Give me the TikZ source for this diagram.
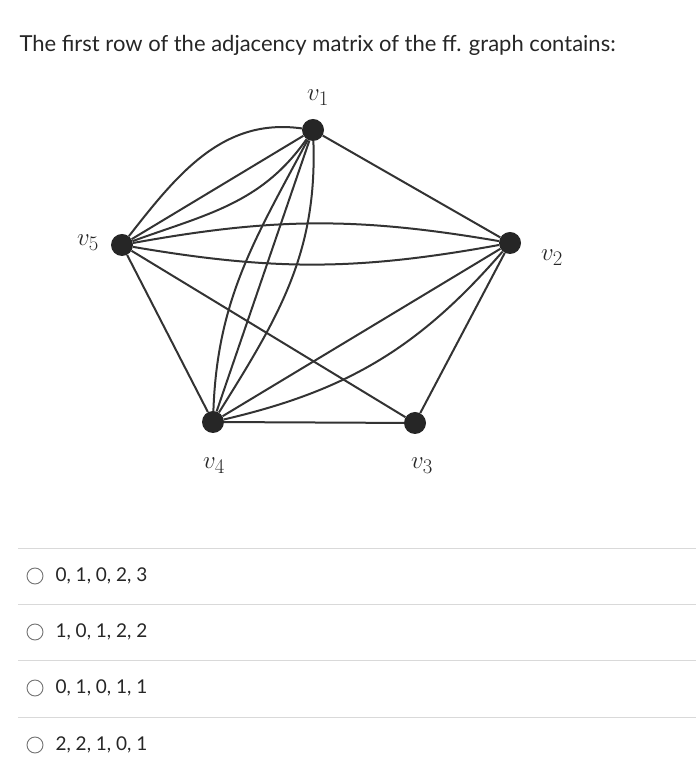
\documentclass[tikz,border=0pt]{standalone}
\usepackage{fontspec}
\setmainfont{Lato}
\newcommand{\vlab}[1]{$v_{#1}$}
\begin{document}
\begin{tikzpicture}[x=1pt,y=1pt,
  vtx/.style={circle,fill=black!85,minimum size=22pt,inner sep=0pt},
  edge/.style={line width=2pt,black!80},
  vl/.style={font=\fontsize{28}{28}\selectfont,text=black!85},
  opt/.style={anchor=west,font=\fontsize{19}{19}\selectfont,text=black!85},
  radio/.style={circle,draw=black!55,line width=0.9pt,minimum size=16pt,inner sep=0pt},
  sep/.style={draw=black!15,line width=0.8pt}]
\useasboundingbox (0,0) rectangle (696,776);
\node[anchor=west,font=\fontsize{22}{22}\selectfont,text=black!85] (title) at (16,731) {The first row of the adjacency matrix of the ff. graph contains:};
\node[vtx] (v1) at (313,646) {};
\node[vtx] (v2) at (510,533) {};
\node[vtx] (v3) at (415,353) {};
\node[vtx] (v4) at (213,354) {};
\node[vtx] (v5) at (122,531) {};
\node[vl] (l1) at (318,678) {\vlab{1}};
\node[vl] (l2) at (552,518) {\vlab{2}};
\node[vl] (l3) at (422,310) {\vlab{3}};
\node[vl] (l4) at (214,310) {\vlab{4}};
\node[vl] (l5) at (88,533) {\vlab{5}};
\begin{scope}[edge]
\draw (v5) to[out=52,in=172] (v1);
\draw (v5) -- (v1);
\draw (v5) to[out=20,in=235] (v1);
\draw (v1) -- (v4);
\draw (v1) to[out=242,in=88] (v4);
\draw (v1) to[out=272,in=58] (v4);
\draw (v1) -- (v2);
\draw (v5) to[bend left=10] (v2);
\draw (v5) to[bend right=10] (v2);
\draw (v5) -- (v3);
\draw (v5) -- (v4);
\draw (v4) -- (v2);
\draw (v4) to[bend right=18] (v2);
\draw (v2) -- (v3);
\draw (v3) -- (v4);
\end{scope}
\foreach \i/\y/\t in {a/200/{0, 1, 0, 2, 3},b/144/{1, 0, 1, 2, 2},c/88/{0, 1, 0, 1, 1},d/31/{2, 2, 1, 0, 1}}{
  \node[radio] (r\i) at (35,\y) {};
  \node[opt] (t\i) at (52,\y) {\t};
}
\foreach \y in {228,172,116,59}{\draw[sep] (18,\y) -- (696,\y);}
\end{tikzpicture}
\end{document}
